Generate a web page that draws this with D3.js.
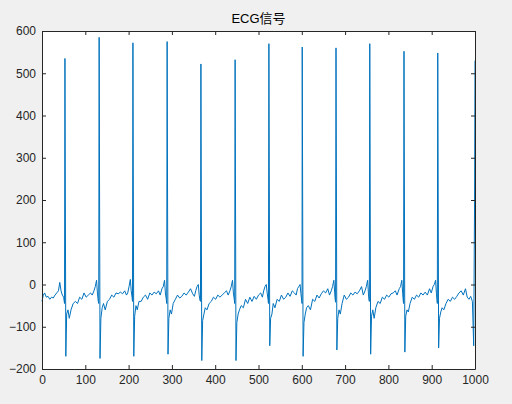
<!DOCTYPE html>
<html><head><meta charset="utf-8">
<script src="https://cdn.jsdelivr.net/npm/d3@7"></script>
<style>body{margin:0;background:#f0f0f0;}</style></head>
<body><svg id="c" width="512" height="404"></svg>
<script>
const title = "ECG信号";
const xTicks = [0,100,200,300,400,500,600,700,800,900,1000];
const yTicks = [-200,-100,0,100,200,300,400,500,600];
const ecgPoints = [
 [0,-40],[3,-25],[6,-20],[10,-30],[14,-28],[18,-35],[22,-30],[26,-32],[30,-25],[34,-20],[38,-15],[41,5],[44,-15],[47,-25],[50,-30],[52,-45],
 [53,535],[55,-170],[57,-70],[60,-60],[63,-80],[67,-60],[72,-45],[77,-40],[82,-45],[87,-30],[92,-35],[97,-20],[102,-30],[107,-25],[112,-20],[116,-25],
 [120,-15],[123,-5],[126,10],[128,-20],[130,-40],[131,-45],[132,585],[134,-175],[136,-80],[139,-55],[142,-45],[146,-60],[151,-40],[156,-35],[161,-25],[166,-30],[171,-20],[176,-22],[181,-18],[186,-22],[191,-15],[195,-25],
 [198,-20],[201,-5],[204,12],[206,-15],[208,-30],[209,-40],[210,572],[212,-170],[214,-75],[217,-50],[220,-60],[224,-40],[229,-40],[234,-30],[239,-25],[244,-35],[249,-20],[254,-25],[259,-18],[264,-22],[269,-15],[273,-25],
 [277,-10],[280,-5],[283,10],[285,-20],[287,-35],[288,-45],[289,575],[291,-165],[293,-80],[296,-60],[299,-70],[303,-45],[308,-35],[313,-25],[318,-32],[323,-28],[328,-20],[333,-25],[338,-18],[343,-10],[348,-22],[352,-28],
 [355,-15],[358,-5],[361,0],[363,-25],[365,-38],[366,-40],[367,522],[369,-180],[371,-85],[374,-70],[377,-55],[381,-60],[386,-45],[391,-40],[396,-30],[401,-35],[406,-25],[411,-30],[416,-25],[421,-20],[426,-15],[430,-25],
 [434,-15],[437,-5],[440,10],[442,-20],[444,-35],[445,-45],[446,532],[448,-180],[450,-90],[453,-70],[456,-60],[460,-50],[465,-55],[470,-35],[475,-45],[480,-30],[485,-40],[490,-28],[495,-35],[500,-25],[505,-20],[509,-30],
 [512,-15],[515,-5],[518,0],[520,-20],[522,-35],[523,-45],[524,570],[526,-145],[528,-80],[531,-70],[534,-45],[538,-55],[543,-35],[548,-40],[553,-25],[558,-35],[563,-30],[568,-20],[573,-28],[578,-15],[583,-20],[587,-25],
 [590,-10],[593,-5],[596,0],[598,-22],[600,-40],[600.5,-45],[601,562],[603,-170],[605,-90],[608,-70],[611,-55],[615,-50],[620,-60],[625,-35],[630,-40],[635,-25],[640,-32],[645,-22],[650,-15],[655,-20],[660,-10],[664,-25],
 [668,-15],[671,-5],[674,10],[676,-20],[677,-35],[678,-42],[679,560],[681,-155],[683,-80],[686,-60],[689,-70],[693,-45],[698,-25],[703,-35],[708,-30],[713,-20],[718,-25],[723,-18],[728,-22],[733,-15],[738,-5],[742,-25],
 [746,-15],[749,-5],[752,10],[754,-22],[755,-35],[756,-40],[757,570],[759,-165],[761,-75],[764,-60],[767,-80],[771,-55],[776,-40],[781,-45],[786,-30],[791,-35],[796,-25],[801,-30],[806,-22],[811,-20],[816,-15],[820,-25],
 [825,-10],[828,-5],[831,10],[833,-22],[834,-35],[835,-45],[836,552],[838,-160],[840,-75],[843,-60],[846,-65],[850,-45],[855,-30],[860,-35],[865,-25],[870,-30],[875,-20],[880,-25],[885,-18],[890,-25],[895,-10],[899,-20],
 [903,-5],[906,0],[909,10],[911,-22],[912,-35],[913,-45],[914,548],[916,-150],[918,-80],[921,-65],[924,-55],[928,-60],[933,-45],[938,-35],[943,-40],[948,-30],[953,-35],[958,-28],[963,-20],[968,-15],[973,-25],[978,-10],
 [982,-30],[986,-35],[990,-28],[994,-40],[997,-145],[999,200],[1000,530]
];
const W=512,H=404,m={l:42,r:37,t:31,b:35};
const svg=d3.select("#c");
const x=d3.scaleLinear().domain([0,1000]).range([m.l,W-m.r]);
const y=d3.scaleLinear().domain([-200,600]).range([H-m.b,m.t]);
svg.append("rect").attr("x",m.l).attr("y",m.t).attr("width",W-m.l-m.r).attr("height",H-m.t-m.b).attr("fill","#fff");
svg.append("path").datum(ecgPoints).attr("fill","none").attr("stroke","#0072bd").attr("stroke-width",1)
 .attr("d",d3.line().x(d=>x(d[0])).y(d=>y(d[1])));
const f="Helvetica, Arial, 'Liberation Sans', sans-serif";
const fmt=d3.format("d");
svg.append("g").attr("transform",`translate(0,${H-m.b})`).call(d3.axisBottom(x).tickValues(xTicks).tickFormat(fmt).tickSizeInner(-4).tickSizeOuter(0).tickPadding(6));
svg.append("g").attr("transform",`translate(${m.l},0)`).call(d3.axisLeft(y).tickValues(yTicks).tickFormat(fmt).tickSizeInner(-4).tickSizeOuter(0).tickPadding(6));
svg.append("g").attr("transform",`translate(0,${m.t})`).call(d3.axisTop(x).tickValues(xTicks).tickSizeInner(-4).tickSizeOuter(0).tickFormat(""));
svg.append("g").attr("transform",`translate(${W-m.r},0)`).call(d3.axisRight(y).tickValues(yTicks).tickSizeInner(-4).tickSizeOuter(0).tickFormat(""));
svg.selectAll(".domain,.tick line").attr("stroke","#262626");
svg.selectAll(".tick text").attr("fill","#262626").style("font-family",f).style("font-size","12px");
svg.append("text").attr("x",(m.l+W-m.r)/2).attr("y",m.t-8).attr("text-anchor","middle").attr("fill","#000")
 .style("font-family","'Liberation Sans','Noto Sans CJK SC',sans-serif").style("font-size","13px").text(title);
</script></body></html>
